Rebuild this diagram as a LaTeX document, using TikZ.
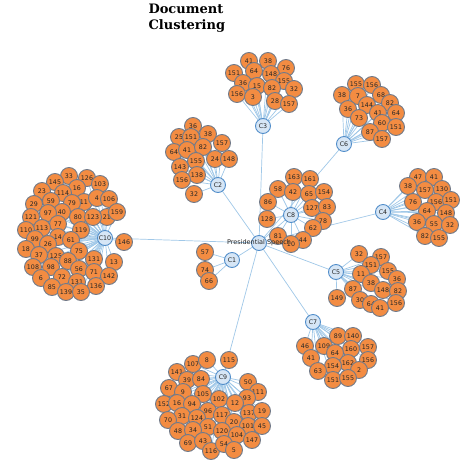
\documentclass[tikz,border=0pt]{standalone}
\usepackage{fontspec}
\setmainfont{DejaVu Sans}
\newfontfamily\titlefont{DejaVu Serif}
\pgfdeclarelayer{back}
\pgfdeclarelayer{bg}
\pgfsetlayers{back,bg,main}
\definecolor{leaffill}{RGB}{243,140,66}
\definecolor{leafdraw}{RGB}{112,122,138}
\definecolor{hubfill}{RGB}{214,230,246}
\definecolor{hubdraw}{RGB}{82,142,202}
\definecolor{edgecol}{RGB}{160,200,232}
\tikzset{
  leaf/.style={circle, minimum size=17pt, inner sep=0pt, fill=leaffill, draw=leafdraw, line width=0.9pt, font=\fontsize{6.3}{6.3}\selectfont, text=black!85},
  cnode/.style={circle, minimum size=15pt, inner sep=0pt, fill=hubfill, draw=hubdraw, line width=0.9pt, font=\fontsize{6.3}{6.3}\selectfont, text=black!85},
  edge/.style={draw=edgecol, line width=0.7pt},
}
\newcommand\mkcluster[2]{%
  \foreach \l/\x/\y [count=\i] in {#2}{%
    \node[leaf] (#1-\i) at (\x,\y) {\l};
    \begin{pgfonlayer}{bg}\draw[edge] (#1.center) -- (#1-\i.center);\end{pgfonlayer}
  }%
}
\begin{document}
\begin{tikzpicture}[x=1pt,y=-1pt]
\begin{pgfonlayer}{back}
\fill[white] (0,0) rectangle (474,469);
\end{pgfonlayer}
\useasboundingbox (0,0) rectangle (474,469);
\node[anchor=north west, align=left, font=\titlefont\bfseries\fontsize{13}{16}\selectfont] (title) at (145,0) {Document\\Clustering};

\node[cnode] (P) at (259,243) {};
\node[cnode] (C1) at (232,260) {C1};
\node[cnode] (C2) at (218,185) {C2};
\node[cnode] (C3) at (263,126) {C3};
\node[cnode] (C4) at (383,212) {C4};
\node[cnode] (C5) at (336,272) {C5};
\node[cnode] (C6) at (344,144) {C6};
\node[cnode] (C7) at (313,322) {C7};
\node[cnode] (C8) at (291,215) {C8};
\node[cnode] (C9) at (223,377) {C9};
\node[cnode] (C10) at (105,238) {C10};
\begin{pgfonlayer}{bg}
\foreach \c in {C1,C2,C3,C4,C5,C6,C7,C8,C9,C10}{\draw[edge] (P.center) -- (\c.center);}
\end{pgfonlayer}

\mkcluster{C1}{57/205/252, 74/205/270, 66/209/281}
\mkcluster{C2}{36/193/126, 25/179/137, 151/191/137, 38/208/134, 157/222/143, 64/174/152, 41/187/150, 82/203/147, 155/196/161, 24/215/159, 148/229/159, 143/180/167, 138/197/175, 156/182/180, 32/194/194}
\mkcluster{C3}{41/249/61, 38/268/61, 76/286/68, 151/234/73, 64/254/71, 148/271/74, 155/284/81, 36/243/83, 15/257/86, 82/272/88, 32/294/89, 156/237/94, 3/253/97, 28/275/101, 157/289/104}
\mkcluster{C6}{155/356/84, 156/372/85, 38/342/95, 7/358/96, 68/381/95, 82/390/103, 144/367/105, 36/348/109, 41/378/113, 64/396/113, 73/359/118, 60/382/123, 151/396/127, 87/370/132, 157/382/139}
\mkcluster{C8}{163/294/177, 161/310/179, 58/278/189, 42/293/192, 65/309/194, 154/324/192, 86/268/202, 127/312/208, 83/327/207, 128/267/219, 78/323/221, 62/313/228, 81/278/236, 44/303/240, 10/291/244}
\mkcluster{C4}{47/418/177, 41/434/177, 38/408/186, 157/425/190, 130/442/189, 76/413/202, 156/436/202, 151/451/200, 64/427/211, 148/446/213, 36/417/222, 55/434/224, 32/450/225, 82/425/236, 155/439/238}
\mkcluster{C5}{32/359/254, 157/381/257, 151/371/265, 155/388/271, 11/361/274, 36/397/279, 38/371/283, 87/353/289, 148/383/290, 82/398/291, 149/337/298, 30/360/300, 64/371/304, 156/396/303, 41/380/308}
\mkcluster{C7}{89/338/336, 140/353/336, 46/305/346, 109/324/346, 160/351/349, 157/368/347, 64/335/353, 41/311/358, 156/368/360, 162/348/363, 154/333/366, 63/318/371, 2/359/370, 151/333/380, 155/348/378}
\mkcluster{C9}{141/177/372, 107/193/364, 8/207/360, 115/229/360, 39/187/380, 84/201/379, 50/248/382, 67/169/388, 9/183/392, 111/258/392, 105/203/394, 93/247/398, 152/164/404, 16/177/403, 94/192/404, 102/219/399, 12/235/403, 96/208/411, 137/249/413, 19/262/411, 31/182/416, 117/222/415, 124/197/418, 70/168/420, 20/234/422, 101/248/426, 45/262/426, 51/208/427, 120/222/431, 48/178/431, 34/193/430, 104/237/435, 147/252/440, 69/188/443, 43/203/441, 116/211/451, 54/224/444, 5/234/450}
\mkcluster{C10}{33/69/176, 145/55/182, 126/87/178, 16/77/188, 103/100/184, 114/63/193, 23/42/191, 11/84/202, 4/97/198, 106/109/199, 79/72/203, 59/51/201, 29/34/204, 21/107/217, 159/117/212, 40/62/212, 80/78/217, 123/93/217, 97/48/213, 121/31/217, 77/58/224, 113/42/228, 110/26/230, 119/81/230, 14/58/237, 61/71/240, 99/35/239, 26/48/244, 18/26/249, 75/79/251, 37/39/255, 125/56/256, 131/94/259, 13/114/262, 88/68/261, 108/33/267, 98/51/267, 56/79/269, 71/94/272, 142/109/276, 6/41/278, 72/62/277, 131/77/282, 136/96/286, 85/52/287, 139/66/292, 35/81/292, 146/124/242}

\node[font=\fontsize{6.5}{6.5}\selectfont, text=black!85] (Plabel) at (P.center) {Presidential Speech};
\end{tikzpicture}
\end{document}
